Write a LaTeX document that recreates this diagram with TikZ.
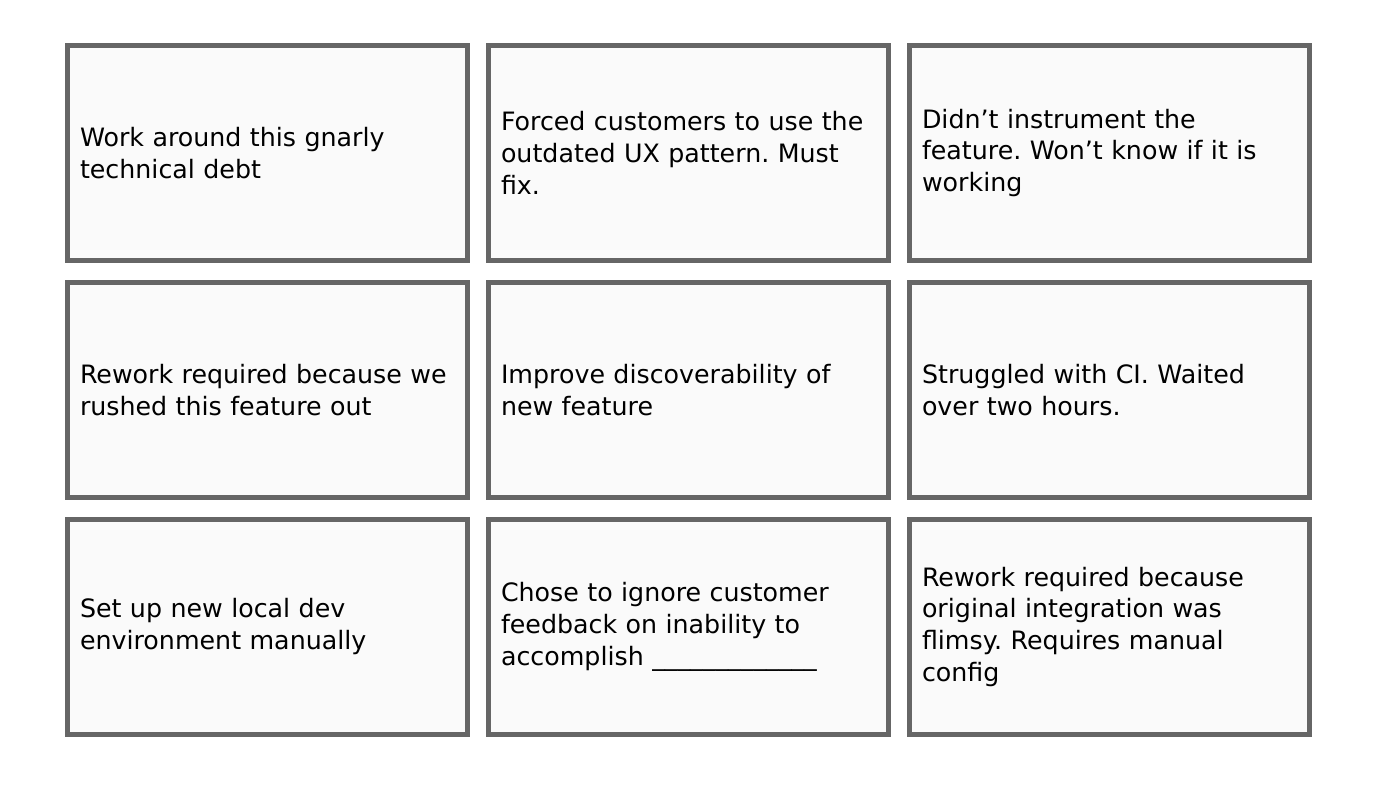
\documentclass[tikz,border=0pt]{standalone}
\usepackage{fontspec}
\setmainfont{DejaVu Sans}
\usepackage{xcolor}
\usepackage{tikz}
\usetikzlibrary{positioning}
\definecolor{frame}{HTML}{666666}
\definecolor{paper}{HTML}{FAFAFA}
\definecolor{ink}{HTML}{000000}
\tikzset{
  card/.style={draw=frame,fill=paper,line width=1mm,minimum width=8cm,minimum height=4.3cm,
    text width=7.5cm,inner xsep=2.5mm,align=left,text=ink,
    font=\fontsize{14.4pt}{18.2pt}\selectfont\frenchspacing},
}
\begin{document}
\begin{tikzpicture}[node distance=3.4mm and 3.2mm]
  \useasboundingbox (0,0) rectangle (28,-15.76);
  % top row
  \node[card] (debt) at (5.35,-3.06) {Work around this gnarly\\technical debt};
  \node[card,right=of debt] (ux) {Forced customers to use the\\outdated UX pattern. Must\\fix.};
  \node[card,right=of ux] (instr) {Didn’t instrument the\\feature. Won’t know if it is\\working};
  % middle row
  \node[card,below=of debt] (rushed) {Rework required because we\\rushed this feature out};
  \node[card,below=of ux] (discover) {Improve discoverability of\\new feature};
  \node[card,below=of instr] (ci) {Struggled with CI. Waited\\over two hours.};
  % bottom row
  \node[card,below=of rushed] (devenv) {Set up new local dev\\environment manually};
  \node[card,below=of discover] (feedback) {Chose to ignore customer\\feedback on inability to\\accomplish \_\_\_\_\_\_\_\_\_\_\_\_\_};
  \node[card,below=of ci] (flimsy) {Rework required because\\original integration was\\flimsy. Requires manual\\config};
\end{tikzpicture}
\end{document}
